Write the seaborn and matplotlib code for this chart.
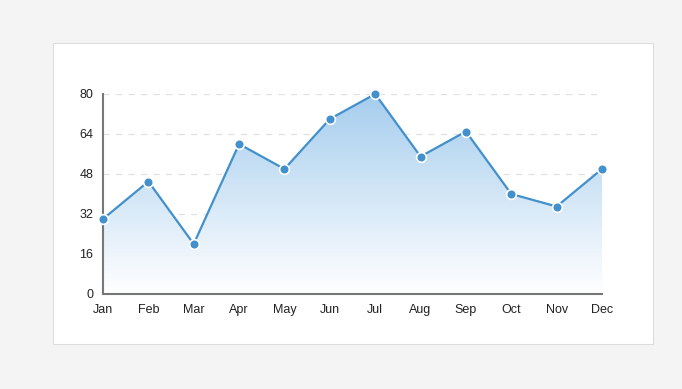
import numpy as np
import pandas as pd
import matplotlib
matplotlib.use("Agg")
import matplotlib.pyplot as plt
from matplotlib.patches import Rectangle
from matplotlib.colors import LinearSegmentedColormap
import seaborn as sns

months = ["Jan", "Feb", "Mar", "Apr", "May", "Jun", "Jul", "Aug", "Sep", "Oct", "Nov", "Dec"]
values = [30, 45, 20, 60, 50, 70, 80, 55, 65, 40, 35, 50]
yticks = [0, 16, 32, 48, 64, 80]

sns.set_style("white")
plt.rcParams["font.family"] = ["Liberation Sans", "DejaVu Sans"]

fig = plt.figure(figsize=(6.82, 3.89), dpi=100)
fig.patch.set_facecolor("#f4f4f4")
W, H = 682, 389
fig.patches.append(Rectangle((53 / W, 1 - 344 / H), 600 / W, 301 / H, transform=fig.transFigure,
                             facecolor="white", edgecolor="#dddddd", linewidth=0.8, zorder=-5))

ax = fig.add_axes([103 / W, 1 - 294 / H, 499 / W, 200 / H])
ax.set_zorder(2)
ax.set_facecolor("none")

df = pd.DataFrame({"x": np.arange(len(months)), "y": values})

# gradient fill
poly = ax.fill_between(df["x"], df["y"], 0, color="none", linewidth=0)
cmap = LinearSegmentedColormap.from_list("g", ["#ffffff", "#a6cdee"])
grad = np.linspace(0, 1, 256).reshape(-1, 1)
im = ax.imshow(grad, extent=[0, 11, 0, 80], origin="lower", aspect="auto", cmap=cmap, zorder=1)
path = poly.get_paths()[0]
im.set_clip_path(path, transform=ax.transData)

for t in yticks[1:]:
    ax.axhline(t, color="#e0e0e0", linestyle=(0, (5, 5)), linewidth=0.9, zorder=0.5, xmax=0.99)

sns.lineplot(data=df, x="x", y="y", ax=ax, color="#4290cc", linewidth=1.6, marker="o",
             markersize=7, markerfacecolor="#4290cc", markeredgecolor="white",
             markeredgewidth=1.2, clip_on=False, zorder=3)

ax.set_xlim(0, 11)
ax.set_ylim(0, 80)
ax.set_xticks(range(len(months)))
ax.set_xticklabels(months)
ax.set_yticks(yticks)
ax.set_xlabel("")
ax.set_ylabel("")
ax.tick_params(axis="both", length=0, labelsize=9, colors="#222222")
ax.tick_params(axis="x", pad=7)
ax.tick_params(axis="y", pad=7)
for s in ["top", "right"]:
    ax.spines[s].set_visible(False)
for s in ["left", "bottom"]:
    ax.spines[s].set_color("#777777")
    ax.spines[s].set_linewidth(1.5)

fig.savefig("out.png", dpi=100, facecolor=fig.get_facecolor())
